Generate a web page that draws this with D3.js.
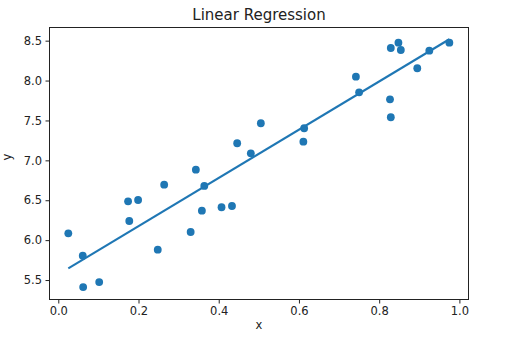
<!DOCTYPE html>
<html>
<head>
<meta charset="utf-8">
<script src="https://cdn.jsdelivr.net/npm/d3@7"></script>
<style>
  html, body { margin: 0; padding: 0; background: #fff; }
  svg { display: block; }
  text { font-family: "DejaVu Sans", sans-serif; fill: #222; }
</style>
</head>
<body>
<svg id="chart" width="505" height="341"></svg>
<script>
// Observations
const xs = [0.025, 0.061, 0.062, 0.102, 0.174, 0.177, 0.199, 0.248, 0.264, 0.330,
            0.343, 0.358, 0.364, 0.407, 0.433, 0.446, 0.480, 0.505, 0.611, 0.613,
            0.742, 0.750, 0.827, 0.829, 0.829, 0.848, 0.854, 0.895, 0.925, 0.975];
const ys = [6.086, 5.805, 5.412, 5.475, 6.487, 6.240, 6.503, 5.880, 6.695, 6.102,
            6.883, 6.369, 6.679, 6.412, 6.428, 7.214, 7.088, 7.465, 7.234, 7.402,
            8.049, 7.853, 7.765, 7.540, 8.408, 8.475, 8.383, 8.154, 8.375, 8.475];

// Fitted regression line, evaluated at the extremes of x
const fitX = [0.025, 0.975];
const fitY = [5.647, 8.518];

// Axis ticks
const xTicks = [0.0, 0.2, 0.4, 0.6, 0.8, 1.0];
const yTicks = [5.5, 6.0, 6.5, 7.0, 7.5, 8.0, 8.5];

const title = "Linear Regression";
const xLabel = "x";
const yLabel = "y";

const blue = "#1f77b4";
const plot = { left: 49.5, top: 27.5, right: 468.5, bottom: 299.5 };

const svg = d3.select("#chart");

const x = d3.scaleLinear().domain([-0.0219, 1.0227]).range([plot.left, plot.right]);
const y = d3.scaleLinear().domain([5.256, 8.665]).range([plot.bottom, plot.top]);

const fmt = d3.format(".1f");

// Axes
const gx = svg.append("g")
  .attr("transform", `translate(0,${plot.bottom})`)
  .call(d3.axisBottom(x).tickValues(xTicks).tickFormat(fmt).tickSize(4).tickPadding(3.5).tickSizeOuter(0));
const gy = svg.append("g")
  .attr("transform", `translate(${plot.left},0)`)
  .call(d3.axisLeft(y).tickValues(yTicks).tickFormat(fmt).tickSize(4).tickPadding(3.5).tickSizeOuter(0));

[gx, gy].forEach(g => {
  g.select(".domain").remove();
  g.selectAll(".tick line").attr("stroke", "#222").attr("stroke-width", 1);
  g.selectAll(".tick text").attr("font-size", "11.5px").attr("font-family", "DejaVu Sans, sans-serif").attr("fill", "#222");
});

// Frame
svg.append("rect")
  .attr("x", plot.left).attr("y", plot.top)
  .attr("width", plot.right - plot.left).attr("height", plot.bottom - plot.top)
  .attr("fill", "none").attr("stroke", "#222").attr("stroke-width", 1);

// Points
svg.append("g")
  .selectAll("circle")
  .data(d3.zip(xs, ys))
  .join("circle")
  .attr("cx", d => x(d[0]))
  .attr("cy", d => y(d[1]))
  .attr("r", 3.9)
  .attr("fill", blue);

// Regression line
svg.append("path")
  .datum(d3.zip(fitX, fitY))
  .attr("d", d3.line().x(d => x(d[0])).y(d => y(d[1])))
  .attr("fill", "none")
  .attr("stroke", blue)
  .attr("stroke-width", 2.1);

// Title and axis labels
svg.append("text")
  .attr("x", (plot.left + plot.right) / 2).attr("y", 20)
  .attr("text-anchor", "middle").attr("font-size", "15px")
  .text(title);

svg.append("text")
  .attr("x", (plot.left + plot.right) / 2).attr("y", 329)
  .attr("text-anchor", "middle").attr("font-size", "11.5px")
  .text(xLabel);

svg.append("text")
  .attr("transform", `translate(11,157) rotate(-90)`)
  .attr("text-anchor", "middle").attr("font-size", "11.5px")
  .text(yLabel);
</script>
</body>
</html>
